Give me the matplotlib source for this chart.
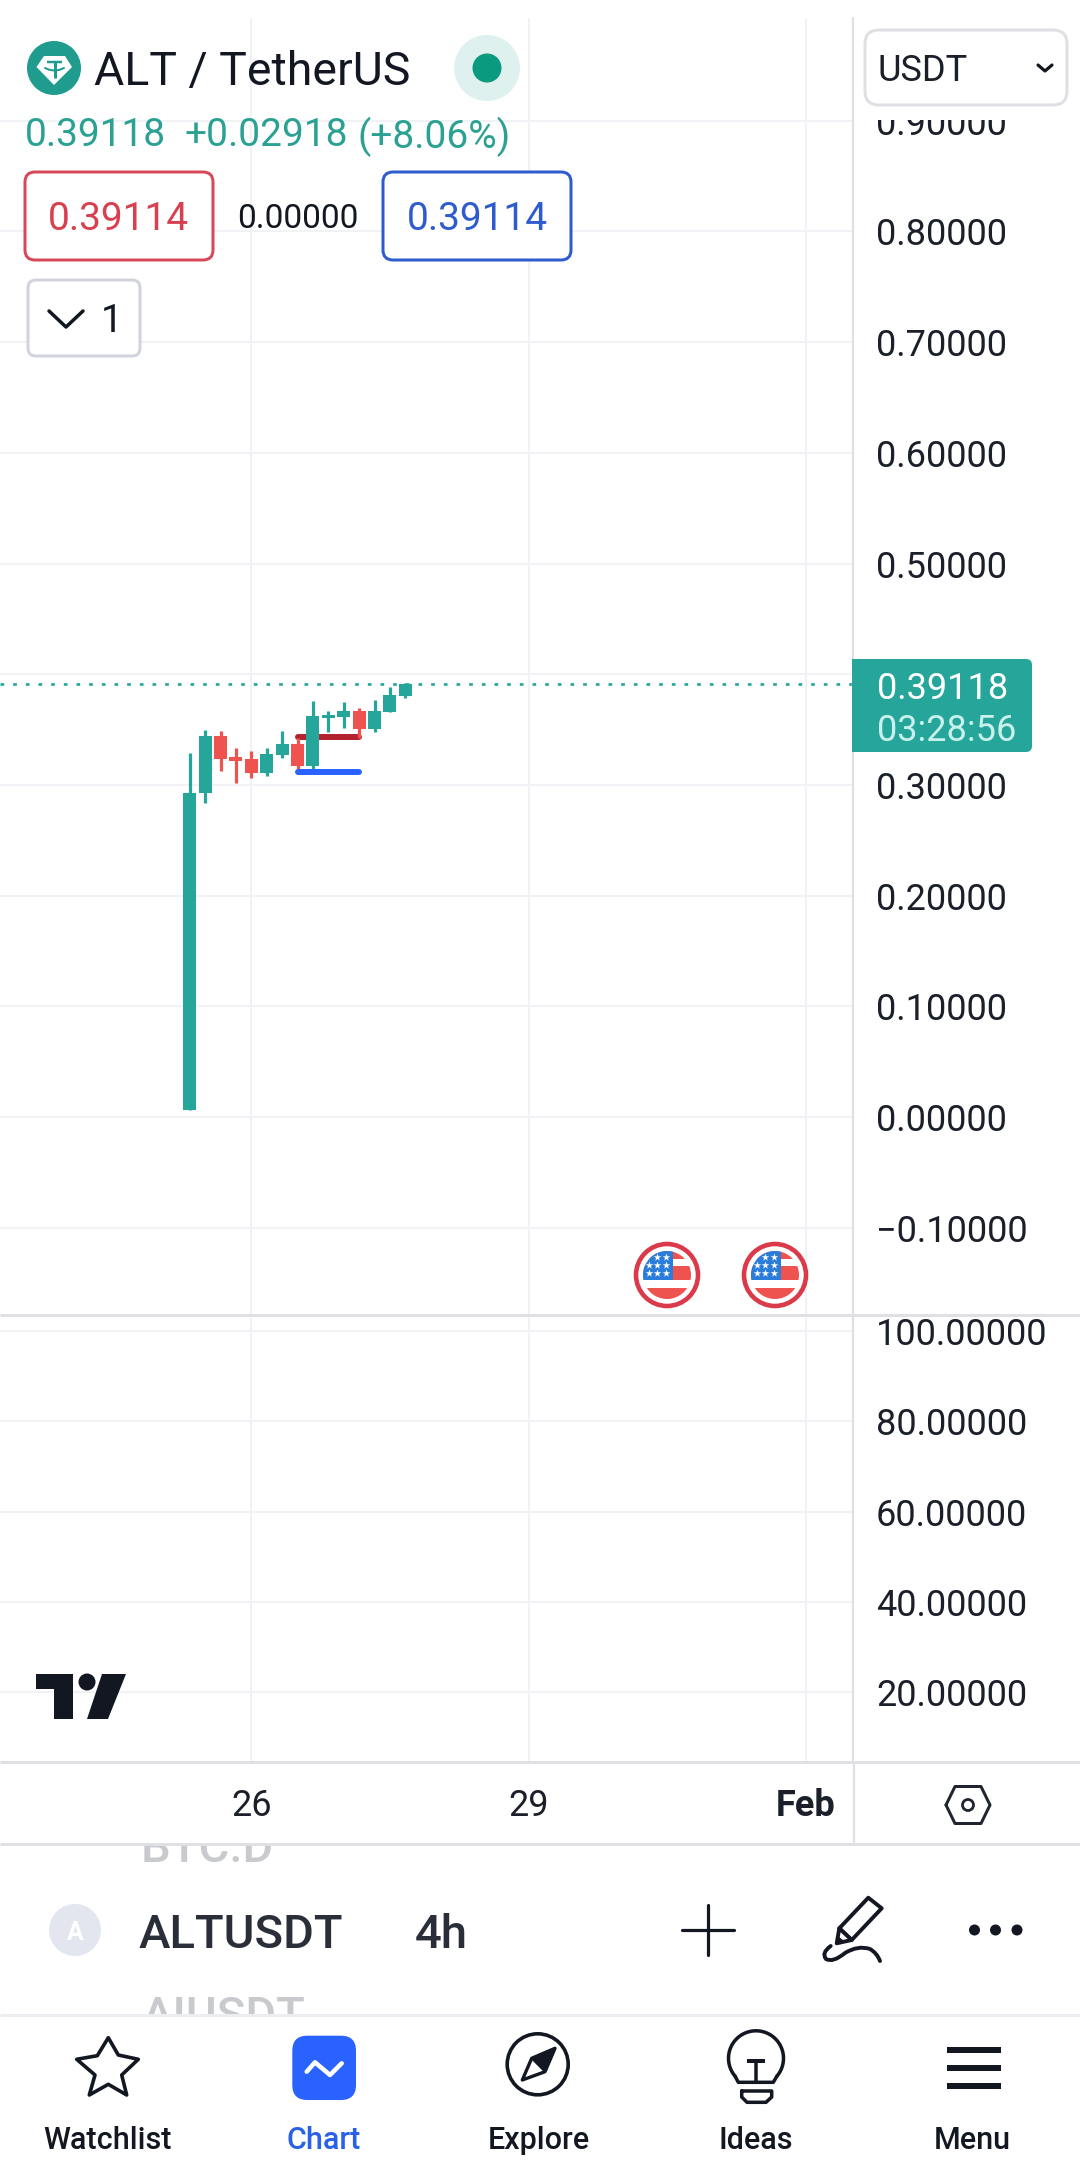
import numpy as np
import matplotlib
matplotlib.use("Agg")
import matplotlib.pyplot as plt
from matplotlib.patches import Circle, FancyBboxPatch, Polygon, Rectangle, PathPatch
from matplotlib.path import Path

W, H = 1080, 2168
plt.rcParams['font.family'] = ['Roboto', 'DejaVu Sans']

# ---- data -------------------------------------------------------------
bars   = list(range(15))
opens  = [0.0060,0.2930,0.3442,0.3250,0.3234,0.3110,0.3270,0.3370,0.3171,0.3604,0.3613,0.3668,0.3505,0.3662,0.3806]
highs  = [0.3285,0.3500,0.3487,0.3330,0.3303,0.3330,0.3487,0.3421,0.3755,0.3665,0.3746,0.3692,0.3764,0.3882,0.3923]
lows   = [0.0060,0.2834,0.3128,0.3020,0.3062,0.3083,0.3246,0.3135,0.3141,0.3481,0.3517,0.3427,0.3475,0.3662,0.3788]
closes = [0.2930,0.3442,0.3231,0.3219,0.3110,0.3279,0.3370,0.3171,0.3622,0.3632,0.3668,0.3505,0.3668,0.3809,0.39118]
last_price = 0.39118
resistance = 0.3433
support = 0.3120
level_bars = [7, 11]
price_ticks = [0.9,0.8,0.7,0.6,0.5,0.4,0.3,0.2,0.1,0.0,-0.1]
price_labels = ['0.90000','0.80000','0.70000','0.60000','0.50000','','0.30000','0.20000','0.10000','0.00000','\u22120.10000']
rsi_ticks = [100,80,60,40,20]
rsi_labels = ['100.00000','80.00000','60.00000','40.00000','20.00000']
time_ticks = [4,22,40]
time_labels = ['26','29','Feb']

GREEN='#26A69A'; RED='#EF5350'; GRID='#F1F2F5'; SEP='#DEE0E4'; DARK='#131722'; TXT='#1B1F2A'
AX_PT = 26

fig = plt.figure(figsize=(W/100, H/100), dpi=100, facecolor='white')
def axes_px(l, t, r, b, **kw):
    return fig.add_axes([l/W, 1-b/H, (r-l)/W, (b-t)/H], **kw)

# x scale shared by both panes
px_per_bar = 15.4
x0 = (0-251.3)/px_per_bar+4
x1 = (853-251.3)/px_per_bar+4

# ---- price pane -------------------------------------------------------
ax = axes_px(0, 18, 853, 1314)
ax.set_xlim(x0, x1)
ax.set_ylim((1117-1314)/1107, (1117-18)/1107)
ax.set_axisbelow(True)
ax.grid(True, color=GRID, lw=1.5)
ax.yaxis.tick_right()
ax.set_yticks(price_ticks, price_labels)
ax.set_xticks(time_ticks, [])
ax.tick_params(axis='y', length=0, pad=16.5, labelsize=AX_PT, labelcolor=TXT)
ax.tick_params(axis='x', length=0)
for s in ['top','left','bottom']:
    ax.spines[s].set_visible(False)
ax.spines['right'].set_color(SEP); ax.spines['right'].set_linewidth(1.6)

ax.plot(level_bars,[resistance]*2,color='#B2222F',lw=4.3,solid_capstyle='round',zorder=2)
for b,o,h,l,c in zip(bars,opens,highs,lows,closes):
    col = GREEN if c>=o else RED
    ax.vlines(b,l,h,color=col,lw=2.3,zorder=3)
    ax.bar(b,abs(c-o),bottom=min(o,c),width=0.85,color=col,zorder=3,linewidth=0)
ax.plot(level_bars,[support]*2,color='#2962FF',lw=4.3,solid_capstyle='round',zorder=4)
ax.axhline(last_price,color=GREEN,lw=1.9,ls=(0,(1.4,3.4)),zorder=2)

# ---- oscillator pane --------------------------------------------------
ax2 = axes_px(0, 1316, 853, 1762)
ax2.set_xlim(x0, x1)
ax2.set_ylim(20-(1762-1692)/4.5125, 100+(1331-1316)/4.5125)
ax2.set_axisbelow(True)
ax2.grid(True, color=GRID, lw=1.5)
ax2.yaxis.tick_right()
ax2.set_yticks(rsi_ticks, rsi_labels)
ax2.set_xticks(time_ticks, time_labels)
ax2.tick_params(axis='y', length=0, pad=16.5, labelsize=AX_PT, labelcolor=TXT)
ax2.tick_params(axis='x', length=0, pad=31.5, labelsize=AX_PT, labelcolor=TXT)
for t in ax2.get_xticklabels():
    t.set_va('center')
ax2.get_xticklabels()[-1].set_fontweight('bold')
for s in ['top','left','bottom']:
    ax2.spines[s].set_visible(False)
ax2.spines['right'].set_color(SEP); ax2.spines['right'].set_linewidth(1.6)

# ---- interface overlay (pixel coordinates) ----------------------------
ui = fig.add_axes([0,0,1,1], zorder=5)
ui.set_xlim(0,W); ui.set_ylim(H,0); ui.axis('off')
ui.patch.set_alpha(0)

def line(xs, ys, c=DARK, w=3, cap='round', z=5):
    ui.plot(xs, ys, color=c, lw=w*0.72, solid_capstyle=cap, solid_joinstyle='round', zorder=z)
def box(l,t,r,b,ec,fc='white',w=3,rad=10,z=3):
    ui.add_patch(FancyBboxPatch((l+rad,t+rad),r-l-2*rad,b-t-2*rad,boxstyle=f'round,pad={rad},rounding_size={rad}',
                                ec=ec,fc=fc,lw=w*0.72,zorder=z))
def T(x,y,s,size,c=TXT,ha='center',va='center_baseline',**k):
    k.setdefault('zorder',6)
    return ui.text(x,y,s,fontsize=size,color=c,ha=ha,va=va,**k)

# separators
ui.add_patch(Rectangle((855,0),225,120,fc='white',ec='none',zorder=1))
for y in (1315,1762,1844):
    line([0,W],[y,y],SEP,3,'butt')
line([0,W],[2015,2015],'#ECEEF2',3,'butt')
line([853.5,853.5],[1762,1844],SEP,2.2,'butt')

# header
TEAL='#1F9C8E'
ui.add_patch(Circle((54,68),27,fc=TEAL,ec='none'))
ui.add_patch(Polygon([(44,56),(65,56),(72,67),(54,85),(36.5,67)],fc='white',ec='none',joinstyle='round'))
line([47,62],[61.5,61.5],TEAL,2.5,'butt'); line([54.5,54.5],[61.5,78],TEAL,3,'butt')
line([45,50,54.5,59,64],[68,70,70.5,70,68],TEAL,2)
T(94,68,'ALT / TetherUS',33.4,DARK,ha='left')
ui.add_patch(Circle((487,68),33,fc='#DFF1EE',ec='none'))
ui.add_patch(Circle((487,68),14.5,fc='#0A9A7F',ec='none'))
T(24.5,132,'0.39118',28,'#2BA193',ha='left')
T(184,132,'+0.02918',28,'#2BA193',ha='left')
T(358,132,'(+8.06%)',28,'#2BA193',ha='left')
box(25,172,213,260,'#D6485A'); T(118.5,216,'0.39114',28,'#D8404F')
T(297.5,216,'0.00000',24,DARK)
box(383,172,571,260,'#2E5BCE'); T(477,216,'0.39114',28,'#2E5BCE')
box(28,280,140,356,'#D1D4DC',rad=8)
line([49,66,83],[311,327,311],DARK,3.5)
T(112,317,'1',28,DARK)

# currency selector
box(865,30,1067,105,SEP,rad=14)
T(877,67,'USDT',AX_PT,TXT,ha='left')
line([1038,1045,1052],[65,71,65],DARK,3.2)

# last price tag
ui.add_patch(Rectangle((852,659),20,93,fc=GREEN,ec='none',zorder=3))
box(855,659,1032,752,GREEN,fc=GREEN,w=0,rad=6)
T(877,685,'0.39118',AX_PT,'white',ha='left')
T(877,727,'03:28:56',AX_PT,'#C9F1EC',ha='left')

# event flags
for cx in (667,775):
    cy=1275
    ui.add_patch(Circle((cx,cy),31,fc='white',ec='#DA3A4A',lw=3.3,zorder=2))
    clip=Circle((cx,cy),24,transform=ui.transData)
    for (t,b) in [(-24,-16),(-9,5),(13,24)]:
        r=Rectangle((cx-24,cy+t),48,b-t,fc='#EF5350',ec='none',zorder=3); ui.add_patch(r); r.set_clip_path(clip)
    r=Rectangle((cx-24,cy-24),29.5,29,fc='#2B7DDB',ec='none',zorder=3.5); ui.add_patch(r); r.set_clip_path(clip)
    sx=[cx-18,cx-10,cx-1]
    for dy,xs in zip((-18,-10,-2),(sx[1:],sx,sx)):
        ui.scatter(xs,[cy+dy]*len(xs),marker='*',s=32,c='white',linewidths=0,zorder=4)

# TradingView logo
ui.add_patch(Polygon([(36,1674),(73,1674),(73,1719),(54,1719),(54,1689),(36,1689)],fc=DARK,ec='none'))
ui.add_patch(Circle((87,1682),8.5,fc=DARK,ec='none'))
ui.add_patch(Polygon([(102,1674),(126,1674),(108,1719),(87,1719)],fc=DARK,ec='none'))

# hex settings icon
hx,hy=968,1805
line([hx-22,hx-13,hx+13,hx+22,hx+13,hx-13,hx-22],[hy,hy-18.5,hy-18.5,hy,hy+18.5,hy+18.5,hy],'#1F2430',3)
ui.add_patch(Circle((hx,hy),5.5,fc='white',ec='#1F2430',lw=2))

# faded list rows
clip1=Rectangle((0,1846),W,100,transform=ui.transData)
t=ui.text(141,1861.5,'BTC.D',fontsize=34,color='#C8CACE',ha='left',va='baseline',fontweight='medium')
t.set_clip_path(clip1); t.set_clip_on(True)
clip2=Rectangle((0,1960),W,53.5,transform=ui.transData)
t=ui.text(142,2030,'AIUSDT',fontsize=34,color='#C8CACE',ha='left',va='baseline',fontweight='medium')
t.set_clip_path(clip2); t.set_clip_on(True)

# symbol toolbar
ui.add_patch(Circle((75,1930),26,fc='#E3E6EE',ec='none'))
T(75,1931,'A',18,'white',fontweight='bold')
T(139,1930,'ALTUSDT',34,'#2A2E39',ha='left',fontweight='medium')
T(415,1930,'4h',34,'#2A2E39',ha='left',fontweight='medium')
line([682,734],[1930,1930],DARK,3.2); line([708,708],[1905,1955],DARK,3.2)
ui.add_patch(Polygon([(868.3,1897.7),(881.7,1908.3),(851.7,1940),(839.3,1928.3)],fc='white',ec=DARK,lw=2.8,joinstyle='round',zorder=4))
ui.add_patch(Polygon([(839.3,1928.3),(851.7,1940),(836.7,1943.3)],fc='white',ec=DARK,lw=2.8,joinstyle='round',zorder=4))
ui.add_patch(Polygon([(838,1937),(843,1941),(837,1943)],fc=DARK,ec=DARK,lw=1,zorder=4))
ui.add_patch(PathPatch(Path([(830.7,1946),(821,1953),(826,1959),(833,1963),(845,1953),(858,1945),(870,1949),(877,1953),(880,1961)],
     [Path.MOVETO]+[Path.CURVE3]*8),fc='none',ec=DARK,lw=2.8,capstyle='round',zorder=4))
for dx in (974.5,995.5,1017):
    ui.add_patch(Circle((dx,1930),5.5,fc=DARK,ec='none'))

# bottom navigation
NAV=22
T(108,2137.5,'Watchlist',NAV,DARK,fontweight='medium')
T(324,2137.5,'Chart',NAV,'#2962E8',fontweight='medium')
T(539,2137.5,'Explore',NAV,DARK,fontweight='medium')
T(755.5,2137.5,'Ideas',NAV,DARK,fontweight='medium')
T(972,2137.5,'Menu',NAV,DARK,fontweight='medium')
# star
ui.add_patch(Polygon([(108.3,2037.7),(118.3,2055),(138.3,2059.3),(121.7,2075),(126.7,2095),(108.3,2084.3),
                      (89.3,2095),(95,2075),(76.7,2059.3),(97.3,2055.7)],fc='white',ec=DARK,lw=2.6,joinstyle='round'))
# chart button
box(292.3,2035.7,356,2100,'#2962FF',fc='#2962FF',w=0,rad=15)
line([306.7,315,330,341.7],[2071.7,2062.3,2075,2063.3],'white',4.5)
# compass
ui.add_patch(Circle((537.7,2064.3),30.5,fc='white',ec=DARK,lw=2.6))
ui.add_patch(Polygon([(555,2048.3),(545,2071.7),(522.3,2080),(531.7,2058.3)],fc='white',ec=DARK,lw=2.4,joinstyle='round'))
ui.add_patch(Polygon([(555,2048.3),(545,2071.7),(531.7,2058.3)],fc=DARK,ec=DARK,lw=1.5,joinstyle='round'))
# idea bulb
a=np.deg2rad(np.linspace(140,400,80))
line(756+27.5*np.cos(a),2058.3+27.5*np.sin(a),DARK,3.5)
line([735,738.3,773.3,777],[2076,2082.3,2082.3,2076],DARK,3.5)
line([747.3,765],[2061,2061],DARK,4,'butt'); line([756,756],[2061,2082],DARK,3.5,'butt')
line([741.7,771.7,771.7,766,747,741.7,741.7],[2091,2091,2097,2102.3,2102.3,2097,2091],DARK,3.5)
# menu
for y in (2050,2067.6,2085.8):
    line([947,1001],[y,y],DARK,6,'butt')

fig.savefig('out.png', dpi=100, facecolor='white')
